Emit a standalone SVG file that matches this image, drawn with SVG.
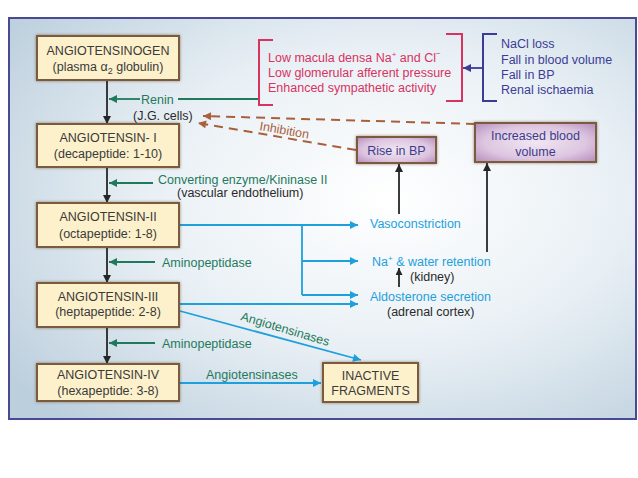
<svg xmlns="http://www.w3.org/2000/svg" width="638" height="478" viewBox="0 0 638 478">
<defs>
<radialGradient id="bg" cx="0.6" cy="0.45" r="0.75">
<stop offset="0" stop-color="#ffffff"/>
<stop offset="0.5" stop-color="#e9f0f5"/>
<stop offset="1" stop-color="#bccfdd"/>
</radialGradient>
<radialGradient id="pur" cx="0.5" cy="0.5" r="0.7">
<stop offset="0" stop-color="#f1e6f2"/>
<stop offset="0.6" stop-color="#ddc6e0"/>
<stop offset="1" stop-color="#b58bbb"/>
</radialGradient>
<filter id="sh" x="-20%" y="-30%" width="140%" height="160%">
<feDropShadow dx="0" dy="0" stdDeviation="1.5" flood-color="#5a3a20" flood-opacity="0.6"/>
</filter>
<marker id="ak" viewBox="0 0 10 10" refX="10" refY="5" markerWidth="8" markerHeight="8" markerUnits="userSpaceOnUse" orient="auto"><path d="M0,0 L10,5 L0,10 z" fill="#262626"/></marker>
<marker id="ak2" viewBox="0 0 10 10" refX="10" refY="5" markerWidth="7" markerHeight="7" markerUnits="userSpaceOnUse" orient="auto"><path d="M0,0 L10,5 L0,10 z" fill="#262626"/></marker>
<marker id="ag" viewBox="0 0 10 10" refX="10" refY="5" markerWidth="8" markerHeight="8" markerUnits="userSpaceOnUse" orient="auto"><path d="M0,0 L10,5 L0,10 z" fill="#1f7a5c"/></marker>
<marker id="ab" viewBox="0 0 10 10" refX="10" refY="5" markerWidth="9" markerHeight="8" markerUnits="userSpaceOnUse" orient="auto"><path d="M0,0 L10,5 L0,10 z" fill="#1ea0dc"/></marker>
<marker id="ai" viewBox="0 0 10 10" refX="10" refY="5" markerWidth="8" markerHeight="8" markerUnits="userSpaceOnUse" orient="auto"><path d="M0,0 L10,5 L0,10 z" fill="#3c3c96"/></marker>
<marker id="ar" viewBox="0 0 10 10" refX="10" refY="5" markerWidth="10" markerHeight="8" markerUnits="userSpaceOnUse" orient="auto"><path d="M0,0 L10,5 L0,10 z" fill="#a8603c"/></marker>
</defs>
<style>
text{font-family:"Liberation Sans",Arial,sans-serif;font-size:12.5px}
.bx{fill:#fdf1cb;stroke:#7b5a3c;stroke-width:2;filter:url(#sh)}
.pb{fill:url(#pur);stroke:#7b5a3c;stroke-width:2;filter:url(#sh)}
.bt{fill:#3a3a3a;text-anchor:middle}
.pt{fill:#3c3c8c;text-anchor:middle}
.k{stroke:#262626;stroke-width:1.8;fill:none}
.g{stroke:#1f7a5c;stroke-width:1.8;fill:none}
.b{stroke:#1ea0dc;stroke-width:1.8;fill:none}
.d{stroke:#a8603c;stroke-width:2;fill:none;stroke-dasharray:9 6}
.gt{fill:#1f7a5c}
.bl{fill:#1ea0dc}
.kt{fill:#2a2a2a}
.rt{fill:#d8325f}
.it{fill:#3c3c96}
</style>
<rect width="638" height="478" fill="#ffffff"/>
<rect x="9" y="18" width="627" height="401" fill="url(#bg)" stroke="#4a4a94" stroke-width="2"/>

<g id="connectors">
<path class="k" d="M107,80 V124" marker-end="url(#ak)"/>
<path class="k" d="M107,167 V203" marker-end="url(#ak)"/>
<path class="k" d="M107,247 V283" marker-end="url(#ak)"/>
<path class="k" d="M107,327 V364" marker-end="url(#ak)"/>
<path class="g" d="M259,99 H178"/>
<path class="g" d="M140,99 H109" marker-end="url(#ag)"/>
<path class="g" d="M153,183 H109" marker-end="url(#ag)"/>
<path class="g" d="M155,262 H109" marker-end="url(#ag)"/>
<path class="g" d="M155,343 H109" marker-end="url(#ag)"/>
<path class="b" d="M180,225 H358" marker-end="url(#ab)"/>
<path class="b" d="M302,225 V295"/>
<path class="b" d="M302,261 H358" marker-end="url(#ab)"/>
<path class="b" d="M302,295 H358" marker-end="url(#ab)"/>
<path class="b" d="M180,304 H358" marker-end="url(#ab)"/>
<path class="b" d="M180,311 L361,360" marker-end="url(#ab)"/>
<path class="b" d="M180,383 H321" marker-end="url(#ab)"/>
<path class="k" d="M399,214 V164" marker-end="url(#ak)"/>
<path class="k" d="M487,252 V163" marker-end="url(#ak)"/>
<path class="k" d="M399,287 V268" marker-end="url(#ak2)"/>
<path class="d" d="M475,124 L203,116" marker-end="url(#ar)"/>
<path class="d" d="M356,150 L198,123" marker-end="url(#ar)"/>
<path d="M273,40 H259 V105 H273" fill="none" stroke="#d8325f" stroke-width="2"/>
<path d="M446,34 H462 V101 H446" fill="none" stroke="#d8325f" stroke-width="2"/>
<path d="M497,34 H483 V101 H497" fill="none" stroke="#3c3c96" stroke-width="2"/>
<path d="M483,68 H463" fill="none" stroke="#3c3c96" stroke-width="1.8" marker-end="url(#ai)"/>
</g>

<g id="angiotensinogen">
<rect class="bx" x="37" y="36" width="142" height="44"/>
<text class="bt" x="108" y="54.5">ANGIOTENSINOGEN</text>
<text class="bt" x="108" y="70.5">(plasma α<tspan font-size="9" dy="3">2</tspan><tspan dy="-3"> globulin)</tspan></text>
</g>
<g id="angiotensin1">
<rect class="bx" x="37" y="124" width="142" height="43"/>
<text class="bt" x="108" y="141.5">ANGIOTENSIN- I</text>
<text class="bt" x="108" y="157.5">(decapeptide: 1-10)</text>
</g>
<g id="angiotensin2">
<rect class="bx" x="37" y="203" width="142" height="44"/>
<text class="bt" x="108" y="220.5">ANGIOTENSIN-II</text>
<text class="bt" x="108" y="237.5">(octapeptide: 1-8)</text>
</g>
<g id="angiotensin3">
<rect class="bx" x="37" y="283" width="142" height="44"/>
<text class="bt" x="108" y="300.5">ANGIOTENSIN-III</text>
<text class="bt" x="108" y="315.5">(heptapeptide: 2-8)</text>
</g>
<g id="angiotensin4">
<rect class="bx" x="37" y="364" width="142" height="37"/>
<text class="bt" x="108" y="378.5">ANGIOTENSIN-IV</text>
<text class="bt" x="108" y="395">(hexapeptide: 3-8)</text>
</g>
<g id="inactive">
<rect class="bx" x="323" y="363" width="95" height="39"/>
<text class="bt" x="370.5" y="380">INACTIVE</text>
<text class="bt" x="370.5" y="395">FRAGMENTS</text>
</g>
<g id="rise-bp">
<rect class="pb" x="357" y="137" width="79" height="26"/>
<text class="pt" x="396.5" y="155">Rise in BP</text>
</g>
<g id="increased-volume">
<rect class="pb" x="475" y="123" width="121" height="39"/>
<text class="pt" x="535.5" y="139.5">Increased blood</text>
<text class="pt" x="535.5" y="155.5">volume</text>
</g>

<g id="causes">
<text class="rt" x="268" y="62">Low macula densa Na<tspan font-size="8" dy="-5">+</tspan><tspan dy="5"> and Cl</tspan><tspan font-size="8" dy="-6">−</tspan></text>
<text class="rt" x="268" y="77">Low glomerular afferent pressure</text>
<text class="rt" x="268" y="92">Enhanced sympathetic activity</text>
</g>
<g id="triggers">
<text class="it" x="501" y="48">NaCl loss</text>
<text class="it" x="501" y="64">Fall in blood volume</text>
<text class="it" x="501" y="79">Fall in BP</text>
<text class="it" x="501" y="94">Renal ischaemia</text>
</g>

<g id="labels">
<text class="gt" x="141" y="103.5">Renin</text>
<text class="kt" x="133" y="119.5">(J.G. cells)</text>
<text class="gt" x="158" y="183.5">Converting enzyme/Kininase II</text>
<text class="kt" x="177" y="196.5">(vascular endothelium)</text>
<text class="gt" x="162" y="266.5">Aminopeptidase</text>
<text class="gt" x="162" y="347.5">Aminopeptidase</text>
<text class="gt" x="206" y="378.5">Angiotensinases</text>
<text class="gt" transform="translate(240,320) rotate(16.5)">Angiotensinases</text>
<text fill="#a8603c" transform="translate(259,130) rotate(10)">Inhibition</text>
<text class="bl" x="370" y="227.5">Vasoconstriction</text>
<text class="bl" x="372" y="265.5">Na<tspan font-size="8" dy="-5">+</tspan><tspan dy="5"> &amp; water retention</tspan></text>
<text class="kt" x="410" y="281">(kidney)</text>
<text class="bl" x="370" y="300.5">Aldosterone secretion</text>
<text class="kt" x="387" y="315.5">(adrenal cortex)</text>
</g>
</svg>
